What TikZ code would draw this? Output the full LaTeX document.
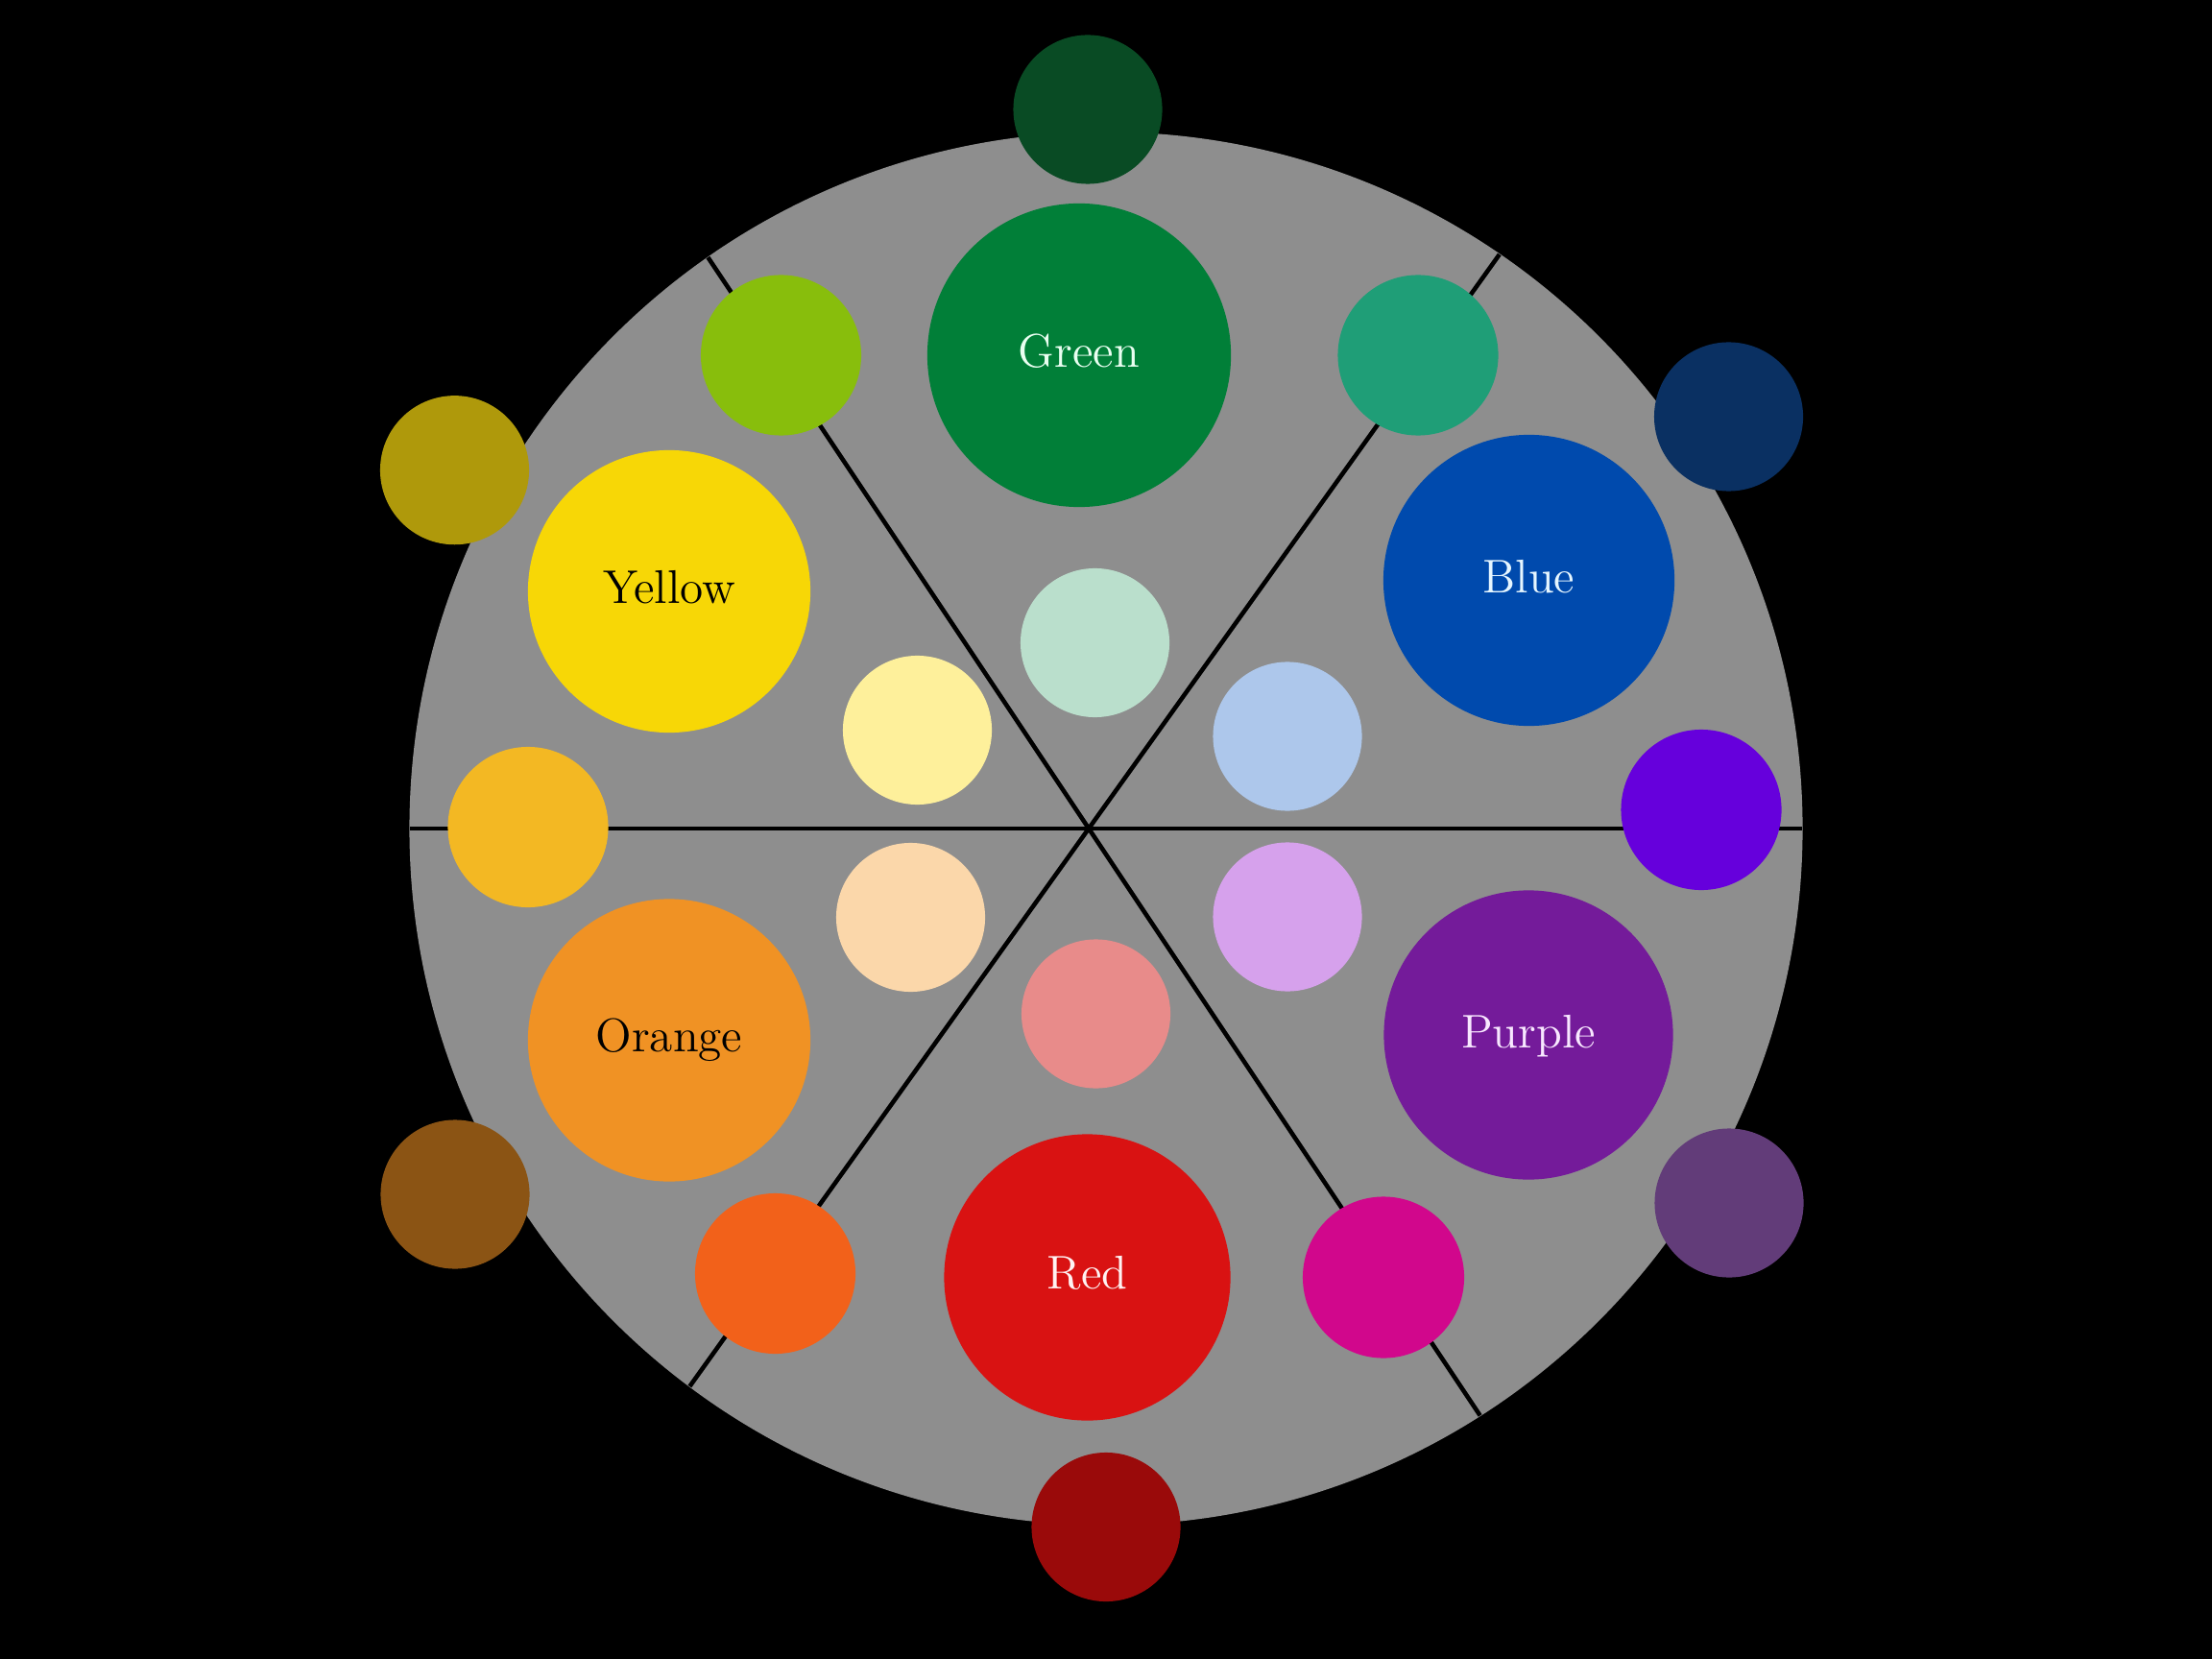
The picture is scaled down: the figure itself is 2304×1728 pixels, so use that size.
\documentclass[tikz,border=0pt]{standalone}
\definecolor{wheelgray}{HTML}{8E8E8E}
\definecolor{cDarkGreen}{HTML}{094B24}
\definecolor{cGreen}{HTML}{017F38}
\definecolor{cYellowGreen}{HTML}{88BE0C}
\definecolor{cTeal}{HTML}{1F9E77}
\definecolor{cNavy}{HTML}{0A3062}
\definecolor{cBlue}{HTML}{004AAD}
\definecolor{cOlive}{HTML}{AF990B}
\definecolor{cYellow}{HTML}{F7D706}
\definecolor{cMint}{HTML}{BADFCC}
\definecolor{cPaleYellow}{HTML}{FEF09B}
\definecolor{cPaleBlue}{HTML}{ADC7EB}
\definecolor{cYellowOrange}{HTML}{F3B823}
\definecolor{cViolet}{HTML}{6600DC}
\definecolor{cPeach}{HTML}{FBD7AA}
\definecolor{cLavender}{HTML}{D6A1EC}
\definecolor{cOrange}{HTML}{F09224}
\definecolor{cPurple}{HTML}{741B9A}
\definecolor{cPaleRed}{HTML}{E88B8A}
\definecolor{cBrown}{HTML}{8B5414}
\definecolor{cDarkPurple}{HTML}{623C79}
\definecolor{cRedOrange}{HTML}{F2611A}
\definecolor{cRed}{HTML}{D91212}
\definecolor{cMagenta}{HTML}{D1078C}
\definecolor{cDarkRed}{HTML}{9A0A0A}
\definecolor{tGreen}{HTML}{E9FFF1}
\definecolor{tBlue}{HTML}{E6F6FF}
\definecolor{tPurple}{HTML}{F8E8FF}
\definecolor{tRed}{HTML}{FFF2F2}
\begin{document}
\begin{tikzpicture}[x=0.01cm, y=-0.01cm,
  ball/.style 2 args={circle, inner sep=0pt, draw=none, fill=#1, minimum size=#2*0.02cm},
  spoke/.style={draw=black, line width=1.3pt},
  lbl/.style={anchor=base, font=\fontsize{14}{16}\selectfont, inner sep=0pt}]
% background / bounding box
\fill[black] (0,0) rectangle (2304,1728);
\useasboundingbox (0,0) rectangle (2304,1728);
% wheel
\node[ball={wheelgray}{725}] (wheel) at (1152,863) {};
% spokes
\coordinate (hub) at (1134,863);
\coordinate (hL) at (427,863);
\coordinate (hR) at (1877,863);
\coordinate (aUL) at (737.4,268.1);
\coordinate (aLR) at (1541.6,1474.4);
\coordinate (bUR) at (1561.8,265);
\coordinate (bLL) at (718.4,1444);
\draw[spoke] (hL) -- (hR);
\draw[spoke] (aUL) -- (hub) -- (aLR);
\draw[spoke] (bUR) -- (hub) -- (bLL);
% outer dark circles
\node[ball={cDarkGreen}{77.5}] (darkgreen) at (1133,114) {};
\node[ball={cOlive}{77.5}] (olive) at (473.5,489.7) {};
\node[ball={cNavy}{77.5}] (navy) at (1800.5,434) {};
\node[ball={cBrown}{77.5}] (brown) at (474,1244) {};
\node[ball={cDarkPurple}{77.5}] (darkpurple) at (1801,1253) {};
\node[ball={cDarkRed}{77.5}] (darkred) at (1152,1590.5) {};
% main colours
\node[ball={cGreen}{158}] (green) at (1124,370) {};
\node[ball={cYellow}{147}] (yellow) at (697,616) {};
\node[ball={cBlue}{151.5}] (blue) at (1592.5,604.5) {};
\node[ball={cOrange}{147}] (orange) at (697,1083.5) {};
\node[ball={cPurple}{150.5}] (purple) at (1592,1078) {};
\node[ball={cRed}{149}] (red) at (1132.5,1330.5) {};
% intermediate colours
\node[ball={cYellowGreen}{83.5}] (yellowgreen) at (813.5,370) {};
\node[ball={cTeal}{83.5}] (teal) at (1477,370) {};
\node[ball={cYellowOrange}{83.5}] (yelloworange) at (550,861.5) {};
\node[ball={cViolet}{83.5}] (violet) at (1772,843.5) {};
\node[ball={cRedOrange}{83.5}] (redorange) at (807.5,1326.5) {};
\node[ball={cMagenta}{84}] (magenta) at (1441,1330.5) {};
% tints
\node[ball={cMint}{77.5}] (mint) at (1140.5,669.5) {};
\node[ball={cPaleYellow}{77.5}] (paleyellow) at (955.5,760.5) {};
\node[ball={cPaleBlue}{77.5}] (paleblue) at (1341,767) {};
\node[ball={cPeach}{77.5}] (peach) at (948.5,955.5) {};
\node[ball={cLavender}{77.5}] (lavender) at (1341,955) {};
\node[ball={cPaleRed}{77.5}] (palered) at (1141.5,1056) {};
% labels
\node[lbl, text=tGreen] (tgreen) at (1124,383) {Green};
\node[lbl, text=black] (tyellow) at (697,628) {Yellow};
\node[lbl, text=tBlue] (tblue) at (1592.5,617) {Blue};
\node[lbl, text=black] (torange) at (697,1095) {Orange};
\node[lbl, text=tPurple] (tpurple) at (1592,1091) {Purple};
\node[lbl, text=tRed] (tred) at (1132.5,1342) {Red};
\end{tikzpicture}
\end{document}
